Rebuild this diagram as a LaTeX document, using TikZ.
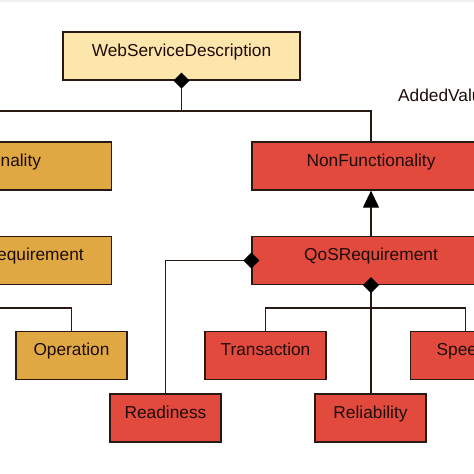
\documentclass[tikz,border=0pt]{standalone}
\usepackage{fontspec}
\setmainfont{Liberation Sans}
\usetikzlibrary{arrows.meta}
\definecolor{paleyellow}{RGB}{252,230,172}
\definecolor{goldbox}{RGB}{224,168,66}
\definecolor{redbox}{RGB}{226,74,62}
\definecolor{edgecol}{RGB}{40,26,18}
\definecolor{txtcol}{RGB}{30,12,10}
\begin{document}
\begin{tikzpicture}[x=1pt,y=-1pt,
  box/.style={draw=edgecol, line width=1.3pt, inner ysep=0pt, inner xsep=0pt,
    minimum height=48pt, text height=7pt, text depth=7pt, text=txtcol,
    font=\fontsize{17.3}{20}\selectfont},
  yel/.style={box, fill=paleyellow},
  gld/.style={box, fill=goldbox},
  rd/.style={box, fill=redbox},
  conn/.style={draw=edgecol, line width=1.2pt},
  dia/.style={conn, {Diamond[length=16pt,width=16pt,fill=black,color=black]}-},
  gen/.style={conn, -{Triangle[length=17pt,width=16pt,fill=black,color=black]}}
]
\useasboundingbox (0,0) rectangle (474,474);
\clip (0,0) rectangle (474,474);
\fill[gray!12] (0,0) rectangle (474,2);

% nodes
\node[yel, minimum width=237pt] (wsd) at (181.5,56) {WebServiceDescription};
\node[gld, anchor=west, inner xsep=1pt, text width=110pt, align=left] (func) at (-1,166) {nality};
\node[rd, minimum width=238pt] (nonfunc) at (371,166) {NonFunctionality};
\node[gld, anchor=west, inner xsep=1.5pt, text width=113pt, align=left] (req) at (-5,260.5) {equirement};
\node[rd, minimum width=238pt] (qos) at (371,260.5) {QoSRequirement};
\node[gld, minimum width=111pt] (operation) at (71.5,355.5) {Operation};
\node[rd, minimum width=121pt] (transaction) at (265.5,355.5) {Transaction};
\node[rd, anchor=west, inner xsep=26pt, text width=58pt, align=left] (speed) at (410,355.5) {Spee};
\node[rd, minimum width=111pt] (readiness) at (165.5,418) {Readiness};
\node[rd, minimum width=111pt] (reliability) at (370.5,418) {Reliability};
\node[anchor=base west, inner sep=0pt, text=txtcol, font=\fontsize{17.3}{20}\selectfont] (added) at (398,101) {AddedValu};

% junction coordinates
\coordinate (j1) at (181.5,111);
\coordinate (lft1) at (0,111);
\coordinate (j2) at (371,308);
\coordinate (lft2) at (0,308);

% connectors
\draw[dia] ([yshift=8pt]wsd.south) -- (j1);
\draw[conn] (lft1) -- (j1) -| (nonfunc.north);
\draw[gen] (qos.north) -- (nonfunc.south);
\draw[dia] ([xshift=8pt]qos.west) -- (readiness.north |- qos.west) -- (readiness.north);
\draw[dia] ([yshift=8pt]qos.south) -- (reliability.north -| qos.south);
\draw[conn] (transaction.north) -- (transaction.north |- j2) -- (j2 -| speed.north) -- (speed.north);
\draw[conn] (lft2) -| (operation.north);
\end{tikzpicture}
\end{document}
